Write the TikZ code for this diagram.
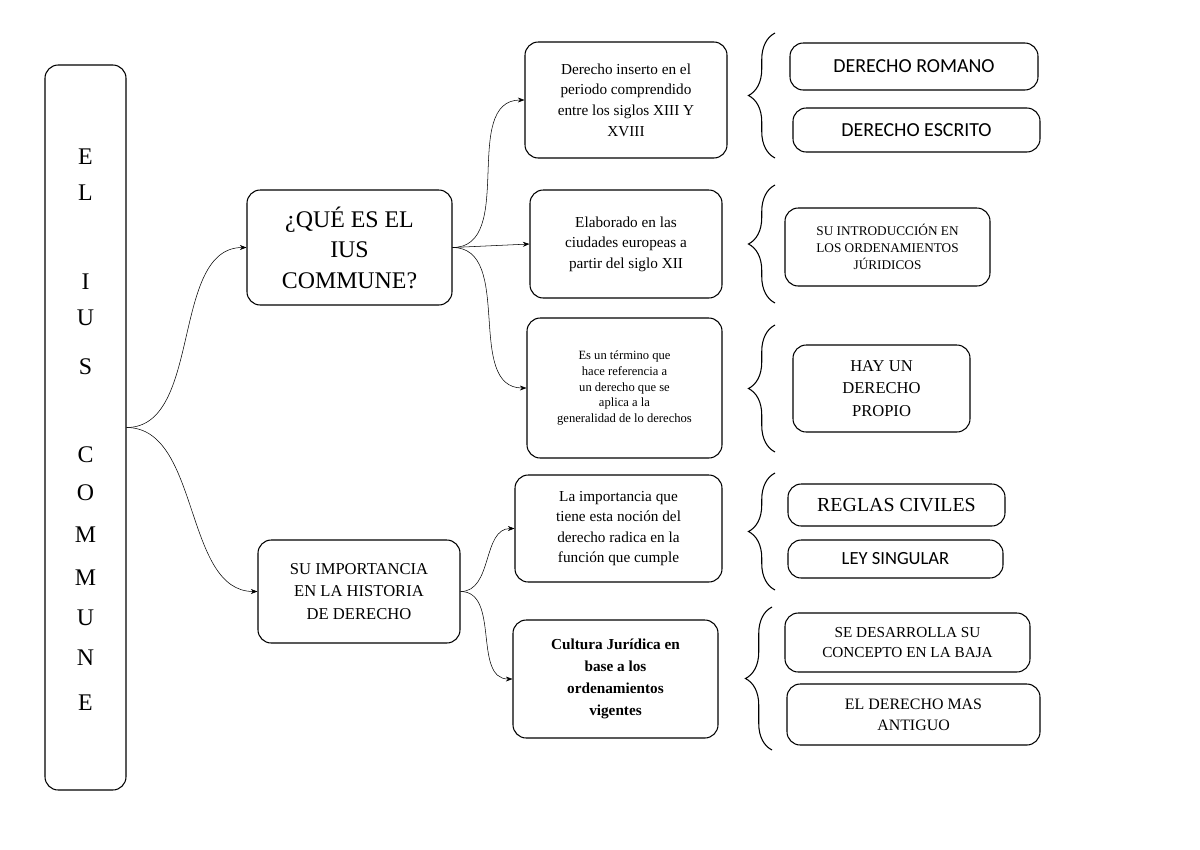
\documentclass[tikz,border=0pt]{standalone}
\usepackage{fontspec}
\setmainfont{Liberation Serif}
\newfontfamily\calfont{Carlito}
\usetikzlibrary{decorations.pathreplacing,arrows.meta}
\begin{document}
\begin{tikzpicture}[x=0.0265cm,y=-0.0265cm,
 bx/.style={draw,thick,rounded corners=10pt,align=center,inner sep=2pt},
 con/.style={-{Stealth[length=5pt]},thin},
 br/.style={thick,decorate,decoration={brace,amplitude=20pt}}]
\useasboundingbox (0,0) rectangle (1200,849);
\node[bx,minimum width=81*0.0265cm,minimum height=725*0.0265cm] (main) at (85.5,427.5) {};
\foreach \l/\y in {E/157,L/193,I/282,U/318,S/367,C/455,O/493,M/535,M/578,U/618,N/658,E/703}
  \node[font=\fontsize{18}{20}\selectfont] at (85.5,\y) {\l};
\newcommand\bxat[7]{\node[bx,font=#6,minimum width={(#3-#2)*0.0265cm},minimum height={(#5-#4)*0.0265cm}] (#1) at ({(#2+#3)/2},{(#4+#5)/2}) {#7};}
\bxat{q}{247}{452}{190}{305}{\fontsize{18}{23}\selectfont}{¿QUÉ ES EL\\IUS\\COMMUNE?}
\bxat{s}{258}{460}{540}{643}{\fontsize{12.5}{17}\selectfont}{SU IMPORTANCIA\\EN LA HISTORIA\\DE DERECHO}
\bxat{a1}{525}{727}{42}{158}{\fontsize{11.5}{15.5}\selectfont}{Derecho inserto en el\\periodo comprendido\\entre los siglos XIII Y\\XVIII}
\bxat{a2}{530}{722}{190}{298}{\fontsize{11.5}{15.5}\selectfont}{Elaborado en las\\ciudades europeas a\\partir del siglo XII}
\bxat{a3}{527}{722}{318}{458}{\fontsize{9.5}{12}\selectfont}{Es un término que\\hace referencia a\\un derecho que se\\aplica a la\\generalidad de lo derechos}
\bxat{b1}{515}{722}{475}{582}{\fontsize{11.5}{15.5}\selectfont}{La importancia que\\tiene esta noción del\\derecho radica en la\\función que cumple}
\bxat{b2}{513}{718}{620}{738}{\fontsize{11.5}{16.5}\selectfont\bfseries}{Cultura Jurídica en\\base a los\\ordenamientos\\vigentes}
\bxat{r1}{790}{1038}{43}{90}{\calfont\fontsize{15}{17}\selectfont}{DERECHO ROMANO}
\bxat{r2}{793}{1040}{108}{152}{\calfont\fontsize{15}{17}\selectfont}{DERECHO ESCRITO}
\bxat{r3}{785}{990}{208}{286}{\fontsize{10}{13}\selectfont}{SU INTRODUCCIÓN EN\\LOS ORDENAMIENTOS\\JÚRIDICOS}
\bxat{r4}{793}{970}{345}{432}{\fontsize{12.5}{17}\selectfont}{HAY UN\\DERECHO\\PROPIO}
\bxat{r5}{788}{1005}{484}{526}{\fontsize{15}{17}\selectfont}{REGLAS CIVILES}
\bxat{r6}{788}{1003}{540}{578}{\calfont\fontsize{14}{16}\selectfont}{LEY SINGULAR}
\bxat{r7}{785}{1030}{613}{672}{\fontsize{11.5}{15}\selectfont}{SE DESARROLLA SU\\CONCEPTO EN LA BAJA}
\bxat{r8}{787}{1040}{684}{745}{\fontsize{12}{16}\selectfont}{EL DERECHO MAS\\ANTIGUO}
\draw[con] (main.east) to[out=0,in=180,looseness=0.9] (q.west);
\draw[con] (main.east) to[out=0,in=180,looseness=0.9] (s.west);
\draw[con] (q.east) to[out=0,in=180] (a1.west);
\draw[con] (q.east) -- (a2.west);
\draw[con] (q.east) to[out=0,in=180] (a3.west);
\draw[con] (s.east) to[out=0,in=180] (b1.west);
\draw[con] (s.east) to[out=0,in=180] (b2.west);
\draw[br] (775,158) -- (775,33);
\draw[br] (775,303) -- (775,185);
\draw[br] (775,452) -- (775,325);
\draw[br] (775,590) -- (775,473);
\draw[br] (772,750) -- (772,607);
\end{tikzpicture}
\end{document}
